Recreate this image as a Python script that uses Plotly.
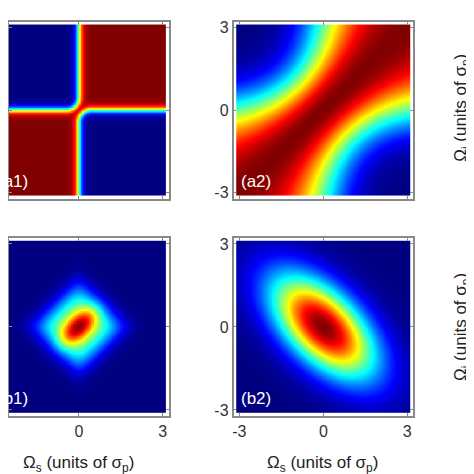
import numpy as np
import plotly.graph_objects as go

W = H = 474
grid = np.linspace(-3.1, 3.1, 241)
tickvals = [-3, 0, 3]
ticktext = ["-3", "0", "3"]
panel_labels = ["(a1)", "(a2)", "(b1)", "(b2)"]
# model parameters
a1_edge = 0.0
a1_radius = 0.45
a1_steep = 12.0
a2_width = [1.2, 0.12]
b1_halo = [0.55, 0.95, 1.75, 0.08]  # weight, Lp exponent, radius, corner softening
b1_core = [0.45, 0.55, 0.28]        # weight, sigma along diagonal, across
b2_sigma = [0.85, 1.6]              # along diagonal, along anti-diagonal

S, I = np.meshgrid(grid, grid)
u = (S + I) / np.sqrt(2)
v = (I - S) / np.sqrt(2)

def sd_quadrant(xp, yp, a, r):
    qx = a + r - xp
    qy = a + r - yp
    return np.hypot(np.maximum(qx, 0), np.maximum(qy, 0)) + np.minimum(np.maximum(qx, qy), 0) - r

D = np.minimum(sd_quadrant(-S, I, a1_edge, a1_radius), sd_quadrant(S, -I, a1_edge, a1_radius))
za1 = 1 / (1 + np.exp(-a1_steep * D))
w = a2_width[0] + a2_width[1] * u**2
za2 = np.exp(-v**2 / (2 * w**2))
p, eps = b1_halo[1], b1_halo[3]
dlp = (np.sqrt(S**2 + eps)**p + np.sqrt(I**2 + eps)**p)**(1 / p)
zb1 = (b1_halo[0] * np.exp(-(dlp / b1_halo[2])**3.5)
       + b1_core[0] * np.exp(-(u**2 / (2 * b1_core[1]**2) + v**2 / (2 * b1_core[2]**2))))
zb2 = np.exp(-(u**2 / (2 * b2_sigma[0]**2) + v**2 / (2 * b2_sigma[1]**2)))

jet = [[0, "rgb(0,0,128)"], [0.125, "rgb(0,0,255)"], [0.375, "rgb(0,255,255)"],
       [0.625, "rgb(255,255,0)"], [0.875, "rgb(255,0,0)"], [1, "rgb(128,0,0)"]]

fig = go.Figure()
def px(x): return x / W
def py(y): return 1 - y / H

panels = [
    (za1, (0, 160), (11, 190), [-2.5, 3.21], False, False),
    (za2, (225, 405), (11, 190), [-3.21, 3.21], False, True),
    (zb1, (0, 160), (230, 410), [-2.5, 3.21], True, False),
    (zb2, (225, 405), (230, 410), [-3.21, 3.21], True, True),
]
layout = {}
tf = dict(family="Arial, Liberation Sans", size=16, color="#333")
for k, (z, xd, yd, xr, sx, sy) in enumerate(panels):
    n = "" if k == 0 else str(k + 1)
    fig.add_trace(go.Heatmap(x=grid, y=grid, z=z, colorscale=jet, zmin=0, zmax=1,
                             showscale=False, xaxis="x" + n, yaxis="y" + n, hoverinfo="skip"))
    common = dict(tickvals=tickvals, ticktext=ticktext, ticks="inside", ticklen=3,
                  showline=True, mirror="allticks", linecolor="#8a8a8a", linewidth=1.5,
                  showgrid=False, zeroline=False, tickcolor="#8a8a8a", tickfont=tf)
    layout["xaxis" + n] = dict(common, domain=[px(xd[0]), px(xd[1])], range=xr,
                               anchor="y" + n, showticklabels=sx)
    layout["yaxis" + n] = dict(common, domain=[py(yd[1]), py(yd[0])], range=[-3.21, 3.21],
                               anchor="x" + n, showticklabels=sy)
    fig.add_annotation(x=px(xd[0] + (5 if k % 2 == 1 else -13)), y=py(yd[1] - 6),
                       xref="paper", yref="paper", text=panel_labels[k],
                       showarrow=False, xanchor="left", yanchor="bottom",
                       font=dict(family="Arial, Liberation Sans", size=17, color="white"))

fig.update_layout(**layout)
f2 = dict(family="Arial, Liberation Sans", size=17, color="#222")
for cx in (70, 314):
    fig.add_annotation(x=px(cx), y=py(459), xref="paper", yref="paper", showarrow=False,
                       xanchor="center", yanchor="middle",
                       text="Ω<sub>s</sub> (units of σ<sub>p</sub>)", font=f2)
for cy in (98, 320):
    fig.add_annotation(x=px(454), y=py(cy), xref="paper", yref="paper", showarrow=False,
                       xanchor="center", yanchor="middle",
                       textangle=-90, text="Ω<sub>i</sub> (units of σ<sub>p</sub>)", font=f2)
fig.update_layout(width=W, height=H, margin=dict(l=0, r=0, t=0, b=0),
                  paper_bgcolor="white", plot_bgcolor="white")
fig.write_html("out.html")
